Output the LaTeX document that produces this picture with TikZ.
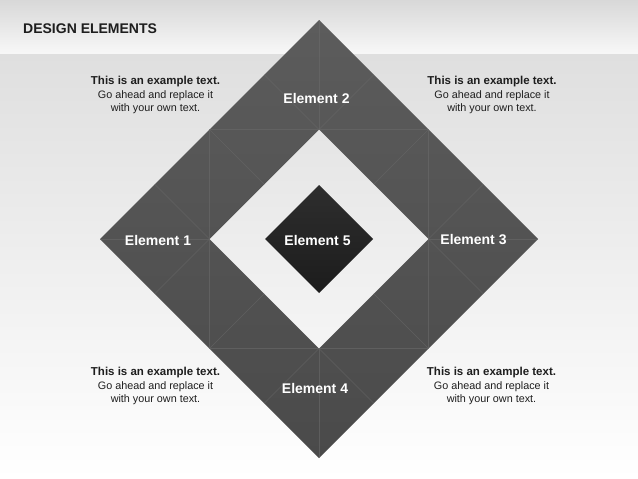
\documentclass[tikz,border=0pt]{standalone}
\usepackage{fontspec}
\usetikzlibrary{calc}
\setmainfont{Liberation Sans}
\definecolor{hdrTop}{HTML}{D8D8D8}
\definecolor{hdrBot}{HTML}{F8F8F8}
\definecolor{bgTop}{HTML}{DFDFDF}
\definecolor{bgBot}{HTML}{FFFFFF}
\definecolor{frameTop}{HTML}{5C5C5C}
\definecolor{frameBot}{HTML}{4A4A4A}
\definecolor{coreTop}{HTML}{2E2E2E}
\definecolor{coreBot}{HTML}{1C1C1C}
\definecolor{seam}{HTML}{6A6A6A}
\definecolor{txt}{HTML}{1E1E1E}
\tikzset{
  seamline/.style={draw=seam, line width=0.4pt, draw opacity=0.6},
  elabel/.style={text=white, font=\bfseries\fontsize{14}{16}\selectfont, inner sep=0pt},
  note/.style={text=txt, align=center, inner sep=0pt, font=\fontsize{10.8}{13.5}\selectfont},
}
\newcommand{\notetext}{{\fontsize{11.5}{13.5}\selectfont\bfseries This is an example text.}\\Go ahead and replace it\\with your own text.}
\begin{document}
\begin{tikzpicture}[x=1pt,y=-1pt]
\useasboundingbox (0,0) rectangle (638,479);
% background
\shade[top color=hdrTop, bottom color=hdrBot] (0,0) rectangle (638,54);
\shade[top color=bgTop, bottom color=bgBot] (0,54) rectangle (638,479);
% geometry
\coordinate (T) at (319,20);
\coordinate (R) at (538,239);
\coordinate (B) at (319,458);
\coordinate (L) at (100,239);
\coordinate (t) at (319,129.5);
\coordinate (r) at (428.5,239);
\coordinate (b) at (319,348.5);
\coordinate (l) at (209.5,239);
\coordinate (MTL) at (209.5,129.5);
\coordinate (MTR) at (428.5,129.5);
\coordinate (MBR) at (428.5,348.5);
\coordinate (MBL) at (209.5,348.5);
% frame
\shade[top color=frameTop, bottom color=frameBot, even odd rule]
  (T) -- (R) -- (B) -- (L) -- cycle (t) -- (r) -- (b) -- (l) -- cycle;
% seams
\path[seamline] (MTL) -- (MTR) -- (MBR) -- (MBL) -- cycle;
\path[seamline] (T) -- (t) (R) -- (r) (B) -- (b) (L) -- (l);
\path[seamline] (MTL) -- ($(t)!0.5!(l)$) (MTR) -- ($(t)!0.5!(r)$)
  (MBR) -- ($(b)!0.5!(r)$) (MBL) -- ($(b)!0.5!(l)$);
\path[seamline] (t) -- ($(T)!0.5!(MTL)$) (t) -- ($(T)!0.5!(MTR)$)
  (r) -- ($(R)!0.5!(MTR)$) (r) -- ($(R)!0.5!(MBR)$)
  (b) -- ($(B)!0.5!(MBR)$) (b) -- ($(B)!0.5!(MBL)$)
  (l) -- ($(L)!0.5!(MBL)$) (l) -- ($(L)!0.5!(MTL)$);
% core
\shade[top color=coreTop, bottom color=coreBot]
  (319,185) -- (373,239) -- (319,293) -- (265,239) -- cycle;
% title
\node[anchor=west, inner sep=0pt, text=txt, font=\bfseries\fontsize{14}{16}\selectfont] (title) at (23,29) {DESIGN ELEMENTS};
% labels
\node[elabel] (e1) at (158,240) {Element 1};
\node[elabel] (e2) at (316.5,98) {Element 2};
\node[elabel] (e3) at (473.5,240) {Element 3};
\node[elabel] (e4) at (315,388) {Element 4};
\node[elabel] (e5) at (317.5,240) {Element 5};
% notes
\node[note] (n1) at (155.5,95) {\notetext};
\node[note] (n2) at (492,95) {\notetext};
\node[note] (n3) at (155.5,386) {\notetext};
\node[note] (n4) at (491.5,386) {\notetext};
\end{tikzpicture}
\end{document}
